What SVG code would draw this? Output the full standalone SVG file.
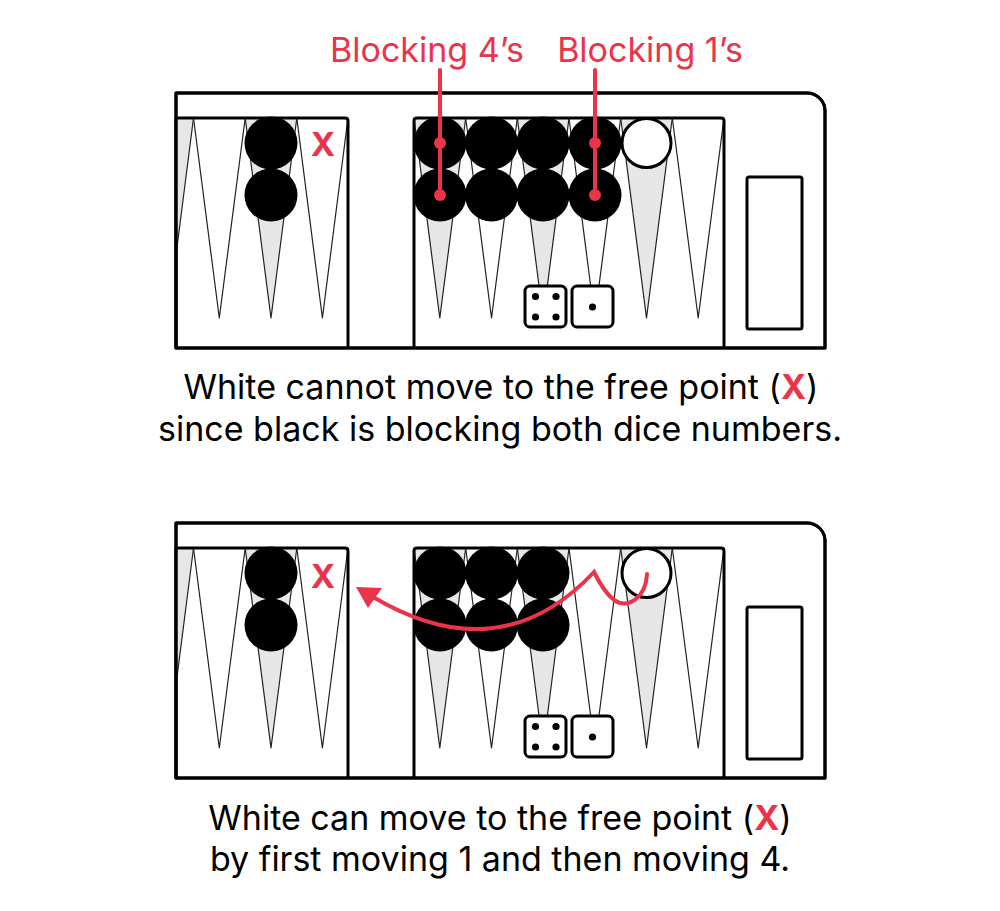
<svg xmlns="http://www.w3.org/2000/svg" xmlns:xlink="http://www.w3.org/1999/xlink" width="1000" height="911" viewBox="0 0 1000 911">
<style>
.frame{fill:#fff;stroke:#000;stroke-width:3;stroke-linejoin:round}
.panel{fill:none;stroke:#000;stroke-width:3;stroke-linejoin:round}
.tw{fill:#fff;stroke:#222;stroke-width:1.2;stroke-linejoin:round}
.tg{fill:#e6e7e6;stroke:#222;stroke-width:1.2;stroke-linejoin:round}
.blk{fill:#000}
.wht{fill:#fff;stroke:#000;stroke-width:3}
.die{fill:#fff;stroke:#000;stroke-width:3}
.pip{fill:#000}
.red{fill:#eb3349}
.redln{fill:none;stroke:#eb3349;stroke-width:4;stroke-linecap:round}
.cap{font-family:Inter,"Liberation Sans",sans-serif;font-size:34px;fill:#000;text-anchor:middle}
.lbl{font-family:Inter,"Liberation Sans",sans-serif;font-size:34px;fill:#eb3349;text-anchor:middle}
.x{font-family:Inter,"Liberation Sans",sans-serif;font-weight:bold;fill:#eb3349}
</style>
<defs>
<g id="board">
<path class="frame" d="M176,348 V93 H807 A18,18 0 0 1 825,111 V348 Z"/>
<polygon class="tg" points="176,118 193.5,118 176,255"/>
<polygon class="tw" points="193.5,118 245.2,118 219.3,318"/>
<polygon class="tg" points="245.2,118 296.8,118 271,318"/>
<polygon class="tw" points="296.8,118 348,118 322.4,318"/>
<polygon class="tg" points="414,118 465.7,118 439.8,318"/>
<polygon class="tw" points="465.7,118 517.3,118 491.5,318"/>
<polygon class="tg" points="517.3,118 569,118 543.2,318"/>
<polygon class="tw" points="569,118 620.7,118 594.8,318"/>
<polygon class="tg" points="620.7,118 672.3,118 646.5,318"/>
<polygon class="tw" points="672.3,118 724,118 698.2,318"/>
<path class="panel" d="M176,348 V118 H345 Q348,118 348,121 V348"/>
<path class="panel" d="M414,348 V121 Q414,118 417,118 H721 Q724,118 724,121 V348"/>
<path class="frame" d="M176,348 V93 H807 A18,18 0 0 1 825,111 V348 Z" style="fill:none"/>
<rect class="panel" x="747" y="177" width="55" height="152" rx="2"/>
<rect class="die" x="525" y="286" width="41" height="41" rx="5"/>
<circle class="pip" cx="535.5" cy="296.5" r="3.6"/>
<circle class="pip" cx="556" cy="296.5" r="3.6"/>
<circle class="pip" cx="535.5" cy="317" r="3.6"/>
<circle class="pip" cx="556" cy="317" r="3.6"/>
<rect class="die" x="572" y="286" width="41" height="41" rx="5"/>
<circle class="pip" cx="592.5" cy="307" r="3.6"/>
</g>
</defs>

<g id="board-top">
<use xlink:href="#board"/>
<g id="checkers-top">
<circle class="blk" cx="271" cy="143" r="26.5"/>
<circle class="blk" cx="271" cy="195" r="26.5"/>
<circle class="blk" cx="440" cy="143" r="26.5"/>
<circle class="blk" cx="440" cy="195" r="26.5"/>
<circle class="blk" cx="491.5" cy="143" r="26.5"/>
<circle class="blk" cx="491.5" cy="195" r="26.5"/>
<circle class="blk" cx="543" cy="143" r="26.5"/>
<circle class="blk" cx="543" cy="195" r="26.5"/>
<circle class="blk" cx="595" cy="143" r="26.5"/>
<circle class="blk" cx="595" cy="195" r="26.5"/>
<circle class="wht" cx="646.5" cy="143" r="24.5"/>
</g>
<text class="x" x="323" y="156" font-size="33" text-anchor="middle">X</text>
</g>

<g id="label-blocking4">
<text class="lbl" x="427" y="62">Blocking 4’s</text>
</g>
<g id="label-blocking1">
<text class="lbl" x="650" y="62">Blocking 1’s</text>
</g>

<g id="caption-top">
<text class="cap" x="501" y="399">White cannot move to the free point (<tspan class="x">X</tspan>)</text>
<text class="cap" x="500" y="441">since black is blocking both dice numbers.</text>
</g>

<g id="board-bottom">
<use xlink:href="#board" transform="translate(0,430)"/>
<g id="checkers-bottom">
<circle class="blk" cx="271" cy="573" r="26.5"/>
<circle class="blk" cx="271" cy="625" r="26.5"/>
<circle class="blk" cx="440" cy="573" r="26.5"/>
<circle class="blk" cx="440" cy="625" r="26.5"/>
<circle class="blk" cx="491.5" cy="573" r="26.5"/>
<circle class="blk" cx="491.5" cy="625" r="26.5"/>
<circle class="blk" cx="543" cy="573" r="26.5"/>
<circle class="blk" cx="543" cy="625" r="26.5"/>
<circle class="wht" cx="646.5" cy="573" r="24.5"/>
</g>
<text class="x" x="323" y="588" font-size="33" text-anchor="middle">X</text>
</g>

<g id="caption-bottom">
<text class="cap" x="500" y="830">White can move to the free point (<tspan class="x">X</tspan>)</text>
<text class="cap" x="500" y="871">by first moving 1 and then moving 4.</text>
</g>

<g id="connectors">
<path class="redln" d="M440,70 V195"/>
<circle class="red" cx="440" cy="143" r="6"/>
<circle class="red" cx="440" cy="195" r="6"/>
<path class="redln" d="M595,70 V195"/>
<circle class="red" cx="595" cy="143" r="6"/>
<circle class="red" cx="595" cy="195" r="6"/>
<path class="redln" d="M647,574 C646,597 628,610 614,600 C605,593 598,580 594,572 Q500,672 373,597"/>
<polygon class="red" points="356,587 368,608 382,588"/>
</g>
</svg>
